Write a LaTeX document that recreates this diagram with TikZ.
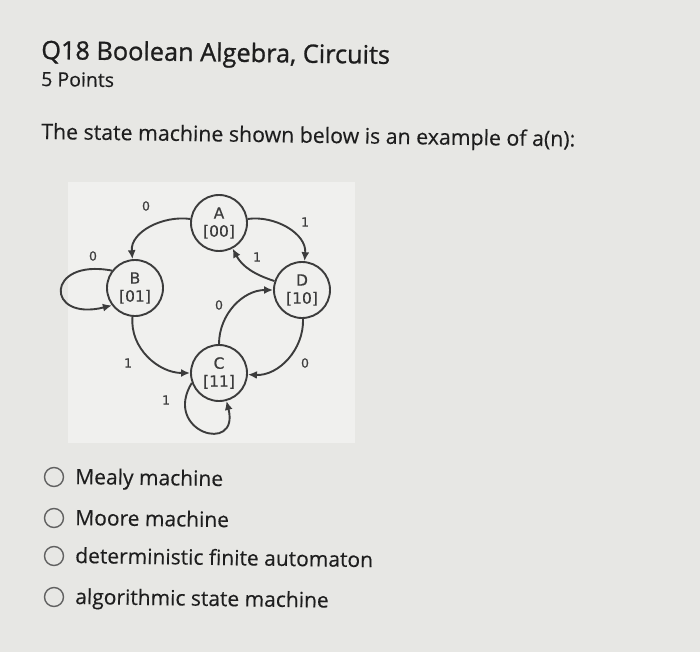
\documentclass[tikz,border=0pt]{standalone}
\usepackage{fontspec}
\setmainfont{Open Sans}[FakeBold=0.3]
\newfontfamily\titlefont{Open Sans}[FakeBold=1.0]
\newfontfamily\dejavu{DejaVu Sans}[FakeBold=0.4]
\usetikzlibrary{arrows.meta}
\definecolor{pagebg}{HTML}{E7E7E4}
\definecolor{boxbg}{HTML}{F0F0EE}
\definecolor{ink}{HTML}{1E1E1E}
\definecolor{edge}{HTML}{3C3C3C}
\tikzset{
  state/.style={circle,draw=edge,line width=1.9pt,minimum size=56pt,inner sep=0pt,
    align=center,font=\dejavu\fontsize{15.5}{18}\selectfont,text=edge},
  trans/.style={draw=edge,line width=1.9pt,-{Latex[length=9pt,width=8pt]}},
  lbl/.style={font=\dejavu\fontsize{12.5}{13}\selectfont,text=edge,inner sep=1pt},
  txt/.style={anchor=base west,text=ink,inner sep=0pt,rotate=-0.8},
  radio/.style={circle,draw=ink!70,line width=1.4pt,minimum size=19pt,inner sep=0pt}
}
\begin{document}
\begin{tikzpicture}[x=1pt,y=1pt]
\fill[pagebg] (0,0) rectangle (700,-652);
\useasboundingbox (0,0) rectangle (700,-652);
\fill[boxbg] (68,-182) rectangle (355,-443);
% texts
\node[txt,font=\titlefont\fontsize{25.3}{28}\selectfont] (title) at (41,-59) {Q18 Boolean Algebra, Circuits};
\node[txt,font=\fontsize{19.5}{22}\selectfont] (pts) at (41,-86) {5 Points};
\node[txt,font=\fontsize{21.3}{24}\selectfont] (q) at (41,-139) {The state machine shown below is an example of a(n):};
% states
\node[state] (A) at (219,-223) {A\\[0pt][00]};
\node[state] (B) at (135,-288) {B\\[0pt][01]};
\node[state] (C) at (219,-373) {C\\[0pt][11]};
\node[state] (D) at (302,-290) {D\\[0pt][10]};
% transitions
\draw[trans] (A) to[out=172,in=95] (B);
\draw[trans] (A) to[out=8,in=85] (D);
\draw[trans] (D) to[out=162,in=-62] (A);
\draw[trans] (B.143) .. controls (45,-258) and (45,-322) .. (B.217);
\draw[trans] (B) to[out=-95,in=180] (C);
\draw[trans] (C) to[out=90,in=180] (D);
\draw[trans] (D) to[out=-88,in=-3] (C);
\draw[trans] (C.200) .. controls (162,-432) and (240,-455) .. (C.-75);
% labels
\node[lbl] (l1) at (146,-206) {0};
\node[lbl] (l2) at (305,-222) {1};
\node[lbl] (l3) at (257,-257) {1};
\node[lbl] (l4) at (93,-256) {0};
\node[lbl] (l5) at (219,-305) {0};
\node[lbl] (l6) at (128,-363) {1};
\node[lbl] (l7) at (305,-363) {0};
\node[lbl] (l8) at (166,-400) {1};
% options
\node[radio] (r1) at (54,-477) {};
\node[radio] (r2) at (54,-518) {};
\node[radio] (r3) at (54,-556) {};
\node[radio] (r4) at (54,-597) {};
\node[txt,font=\fontsize{21}{24}\selectfont] (o1) at (75,-484) {Mealy machine};
\node[txt,font=\fontsize{21}{24}\selectfont] (o2) at (75,-525) {Moore machine};
\node[txt,font=\fontsize{21}{24}\selectfont] (o3) at (75,-563) {deterministic finite automaton};
\node[txt,font=\fontsize{21}{24}\selectfont] (o4) at (75,-604) {algorithmic state machine};
\end{tikzpicture}
\end{document}
